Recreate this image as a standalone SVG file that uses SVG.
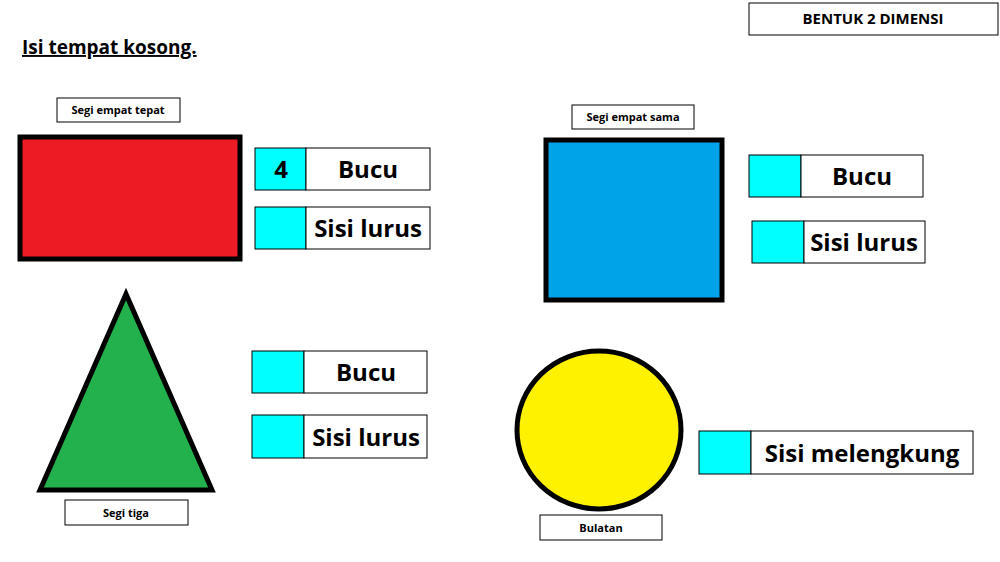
<svg xmlns="http://www.w3.org/2000/svg" width="1000" height="562" viewBox="0 0 1000 562">
<style>
text{font-family:"Open Sans","Liberation Sans",sans-serif;font-weight:bold;fill:#000}
.lb{fill:#fff;stroke:#000;stroke-width:1}
.lt{font-size:11px;text-anchor:middle}
.c{fill:#00ffff;stroke:#000;stroke-width:1}
.w{fill:#fff;stroke:#000;stroke-width:1}
.bt{font-size:24px;text-anchor:middle}
.sh{stroke:#000;stroke-width:5}
</style>
<rect width="1000" height="562" fill="#fff"/>
<g id="title"><rect class="lb" x="749" y="3" width="249" height="32"/><text x="873" y="24" font-size="15" text-anchor="middle">BENTUK 2 DIMENSI</text></g>
<g id="instr"><text x="22" y="54" font-size="19" text-decoration="underline">Isi tempat kosong.</text></g>
<g id="rect-shape">
<rect class="lb" x="57" y="98" width="123" height="24"/><text class="lt" x="118" y="114">Segi empat tepat</text>
<rect class="sh" x="20" y="137" width="220" height="122" fill="#ed1c24"/>
</g>
<g id="rect-bucu"><rect class="c" x="255" y="148" width="51" height="42"/><rect class="w" x="306" y="148" width="124" height="42"/><text class="bt" x="281" y="178">4</text><text class="bt" x="368" y="178">Bucu</text></g>
<g id="rect-sisi"><rect class="c" x="255" y="207" width="51" height="42"/><rect class="w" x="306" y="207" width="124" height="42"/><text class="bt" x="368" y="237">Sisi lurus</text></g>
<g id="square-shape">
<rect class="lb" x="572" y="105" width="122" height="24"/><text class="lt" x="633" y="121">Segi empat sama</text>
<rect class="sh" x="546" y="140" width="176" height="160" fill="#00a2e8"/>
</g>
<g id="sq-bucu"><rect class="c" x="749" y="155" width="52" height="42"/><rect class="w" x="801" y="155" width="122" height="42"/><text class="bt" x="862" y="185">Bucu</text></g>
<g id="sq-sisi"><rect class="c" x="752" y="221" width="52" height="42"/><rect class="w" x="804" y="221" width="121" height="42"/><text class="bt" x="864" y="251">Sisi lurus</text></g>
<g id="tri-shape">
<polygon class="sh" points="126,294 40,490 212,490" fill="#22b14c" stroke-linejoin="miter"/>
<rect class="lb" x="65" y="500" width="123" height="25"/><text class="lt" x="126" y="517">Segi tiga</text>
</g>
<g id="tri-bucu"><rect class="c" x="252" y="351" width="52" height="42"/><rect class="w" x="304" y="351" width="123" height="42"/><text class="bt" x="366" y="381">Bucu</text></g>
<g id="tri-sisi"><rect class="c" x="252" y="415" width="52" height="43"/><rect class="w" x="304" y="415" width="123" height="43"/><text class="bt" x="366" y="446">Sisi lurus</text></g>
<g id="circle-shape">
<ellipse class="sh" cx="599" cy="430" rx="82" ry="79" fill="#fff200"/>
<rect class="lb" x="540" y="515" width="122" height="25"/><text class="lt" x="601" y="532">Bulatan</text>
</g>
<g id="circ-sisi"><rect class="c" x="699" y="431" width="52" height="43"/><rect class="w" x="751" y="431" width="222" height="43"/><text class="bt" x="862" y="462">Sisi melengkung</text></g>
<g id="connectors"></g>
</svg>
